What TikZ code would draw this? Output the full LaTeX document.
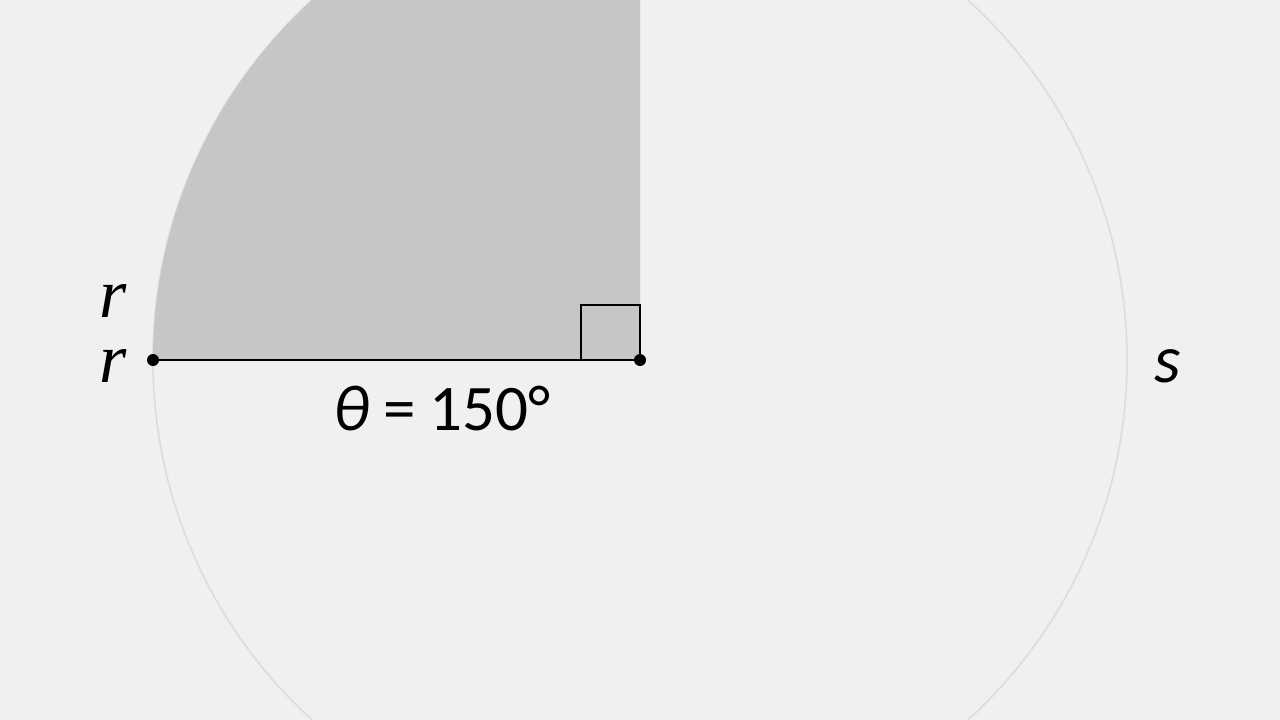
\documentclass[tikz,border=0pt]{standalone}
\usepackage{fontspec}
\newfontfamily\sansf{Carlito}
\newfontfamily\seriff{Liberation Serif}
\definecolor{bg}{HTML}{F0F0F0}
\definecolor{sector}{HTML}{C6C6C6}
\definecolor{circ}{HTML}{DEDEDE}
\begin{document}
\begin{tikzpicture}[x=1pt,y=-1pt,
  lbl/.style={inner sep=0pt,anchor=base},
  dotmark/.style={circle,fill=black,inner sep=0pt,minimum size=12pt},
  edge/.style={line width=2pt,black}]
\fill[bg] (0,0) rectangle (1280,720);
\useasboundingbox (0,0) rectangle (1280,720);
\coordinate (O) at (640,360);
\begin{scope}
\clip (0,0) rectangle (1280,720);
\draw[circ,line width=1.8pt] (O) circle[radius=487];
\fill[sector] (O) -- (153,360) arc[start angle=180,end angle=270,radius=487] -- cycle;
\end{scope}
\node[dotmark] (A) at (153,360) {};
\node[dotmark] (B) at (640,360) {};
\draw[edge] (A.center) -- (B.center);
\draw[line width=2pt] (581,360) -- (581,305) -- (640,305) -- (640,360);
\node[lbl] (r1) at (113,317) {\fontsize{70}{70}\selectfont\seriff\itshape r};
\node[lbl] (r2) at (113,382) {\fontsize{70}{70}\selectfont\seriff\itshape r};
\node[lbl] (s) at (1168,382) {\fontsize{68}{68}\selectfont\sansf\itshape s};
\node[lbl] (th) at (442,430) {\fontsize{65}{65}\selectfont\sansf\itshape θ\upshape\hspace{13pt}=\hspace{14pt}150°};
\end{tikzpicture}
\end{document}
